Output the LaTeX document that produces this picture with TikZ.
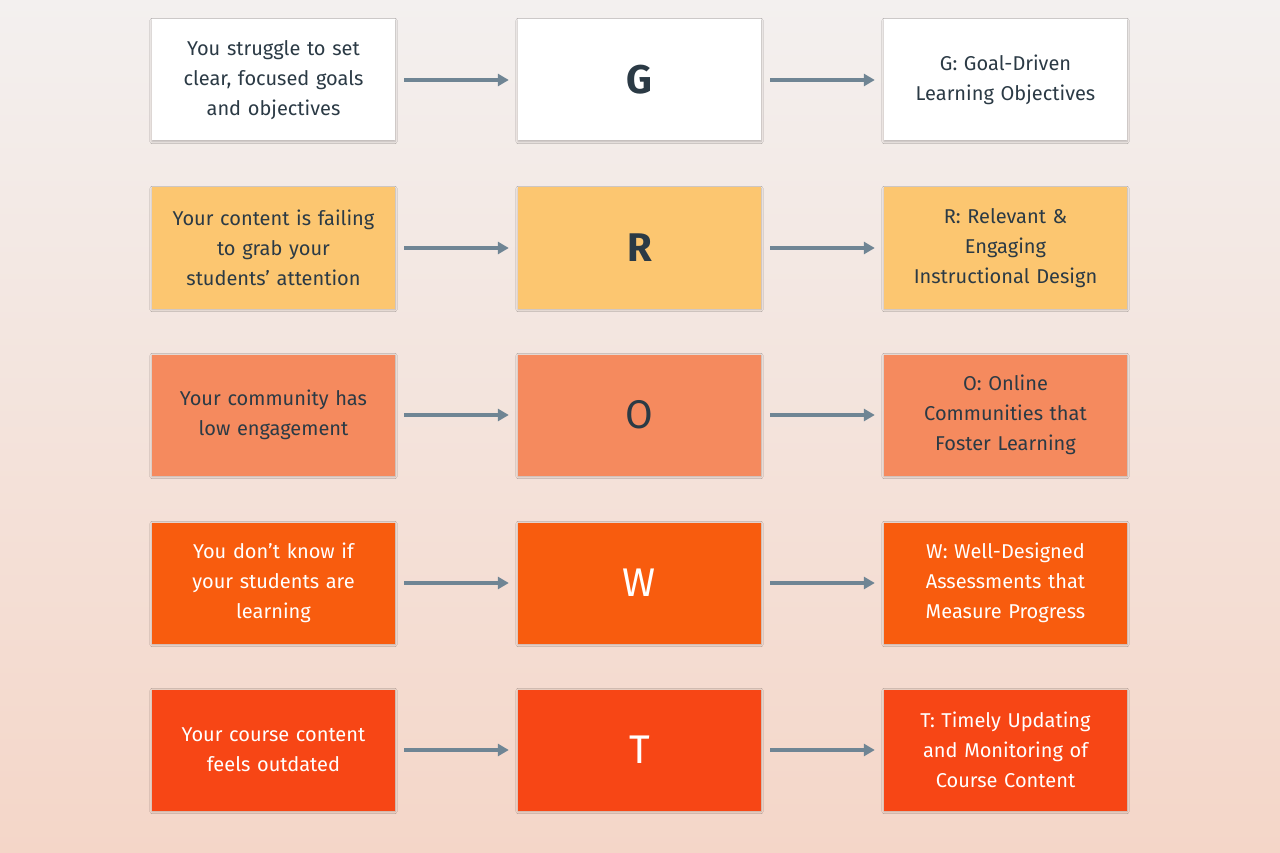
\documentclass[tikz,border=0pt]{standalone}
\usepackage{fontspec}
\setmainfont{Fira Sans}
\usetikzlibrary{arrows.meta,shadows.blur}
\definecolor{ink}{HTML}{2B3A45}
\definecolor{arr}{HTML}{6F8594}
\definecolor{cR}{HTML}{FCC670}
\definecolor{cO}{HTML}{F58A5E}
\definecolor{cW}{HTML}{F85C0E}
\definecolor{cT}{HTML}{F74615}
\definecolor{bgtop}{HTML}{F3F0EF}
\definecolor{bgbot}{HTML}{F4D6C8}
\begin{document}
\begin{tikzpicture}[x=1pt,y=-1pt,
 box/.style={minimum width=243pt,minimum height=121pt,inner sep=0pt,align=center,font=\fontsize{20}{30}\selectfont,text width=230pt,blur shadow={shadow blur steps=8,shadow xshift=0pt,shadow yshift=-1pt,shadow opacity=25}},
 big/.style={box,font=\fontsize{40}{40}\selectfont},
 con/.style={draw=arr,line width=3.5pt,-{Triangle[length=11pt,width=12pt]},shorten <=9pt,shorten >=9pt}]
\shade[top color=bgtop,bottom color=bgbot] (0,0) rectangle (1280,853);
\foreach \n/\y/\fc/\tc/\l/\m/\r in {
 g/80/white/ink/{You struggle to set\\clear, focused goals\\and objectives}/\textbf{G}/{G: Goal-Driven\\Learning Objectives},
 r/248/cR/ink/{Your content is failing\\to grab your\\students’ attention}/\textbf{R}/{R: Relevant \&\\Engaging\\Instructional Design},
 o/415/cO/ink/{Your community has\\low engagement}/O/{O: Online\\Communities that\\Foster Learning},
 w/583/cW/white/{You don’t know if\\your students are\\learning}/W/{W: Well-Designed\\Assessments that\\Measure Progress},
 t/750/cT/white/{Your course content\\feels outdated}/T/{T: Timely Updating\\and Monitoring of\\Course Content}}{
 \node[box,fill=\fc,text=\tc] (\n a) at (273.5,\y) {\l};
 \node[big,fill=\fc,text=\tc] (\n b) at (639.5,\y) {\m};
 \node[box,fill=\fc,text=\tc] (\n c) at (1005.5,\y) {\r};
 \draw[con] (\n a) -- (\n b);
 \draw[con] (\n b) -- (\n c);
}
\end{tikzpicture}
\end{document}
